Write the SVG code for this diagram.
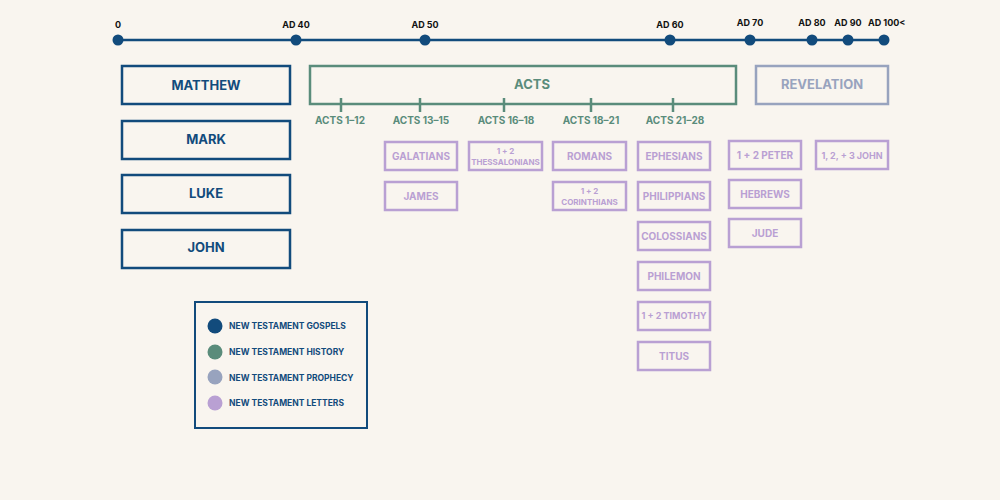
<svg xmlns="http://www.w3.org/2000/svg" width="1000" height="500" viewBox="0 0 1000 500">
<style>
text{font-family:Inter,"Open Sans","Liberation Sans",sans-serif;font-weight:700;text-anchor:middle}
.tl{font-size:9px;fill:#111}
.g rect{fill:none;stroke:#124B7C;stroke-width:2.5}
.g text{font-size:13px;fill:#124B7C}
.h rect{fill:none;stroke:#5A8C7B;stroke-width:2.5}
.h text{fill:#5A8C7B}
.p rect{fill:none;stroke:#98A3BE;stroke-width:2.5}
.p text{font-size:13px;fill:#98A3BE}
.l rect{fill:none;stroke:#B9A0D3;stroke-width:2.5}
.l text{font-size:10px;fill:#B9A0D3}
.l text.s{font-size:8px}
.lg text{font-size:8.5px;fill:#124B7C;text-anchor:start}
</style>
<rect width="1000" height="500" fill="#F9F5EF"/>
<g id="timeline">
<line x1="118" y1="40" x2="884" y2="40" stroke="#124B7C" stroke-width="2.5"/>
<g fill="#124B7C">
<circle cx="118" cy="40" r="5.5"/><circle cx="296" cy="40" r="5.5"/><circle cx="425" cy="40" r="5.5"/><circle cx="670" cy="40" r="5.5"/><circle cx="750" cy="40" r="5.5"/><circle cx="812" cy="40" r="5.5"/><circle cx="848" cy="40" r="5.5"/><circle cx="884" cy="40" r="5.5"/>
</g>
<text class="tl" x="118" y="28">0</text>
<text class="tl" x="296" y="28">AD 40</text>
<text class="tl" x="425" y="28">AD 50</text>
<text class="tl" x="670" y="28">AD 60</text>
<text class="tl" x="750" y="26">AD 70</text>
<text class="tl" x="812" y="26">AD 80</text>
<text class="tl" x="848" y="26">AD 90</text>
<text class="tl" x="868" y="26" style="text-anchor:start">AD 100&lt;</text>
</g>
<g class="g">
<g id="matthew"><rect x="122" y="66" width="168" height="38"/><text x="206" y="89.5">MATTHEW</text></g>
<g id="mark"><rect x="122" y="121" width="168" height="38"/><text x="206" y="144">MARK</text></g>
<g id="luke"><rect x="122" y="175" width="168" height="38"/><text x="206" y="197.5">LUKE</text></g>
<g id="john"><rect x="122" y="230" width="168" height="38"/><text x="206" y="252">JOHN</text></g>
</g>
<g class="h" id="acts">
<rect x="310" y="66" width="426" height="38"/>
<text x="532" y="89" font-size="13">ACTS</text>
<g stroke="#5A8C7B" stroke-width="2.5">
<line x1="341" y1="98" x2="341" y2="112"/><line x1="420" y1="98" x2="420" y2="112"/><line x1="504" y1="98" x2="504" y2="112"/><line x1="591" y1="98" x2="591" y2="112"/><line x1="673" y1="98" x2="673" y2="112"/>
</g>
<g font-size="10">
<text x="340" y="124">ACTS 1–12</text>
<text x="421" y="124">ACTS 13–15</text>
<text x="506" y="124">ACTS 16–18</text>
<text x="591" y="124">ACTS 18–21</text>
<text x="675" y="124">ACTS 21–28</text>
</g>
</g>
<g class="p" id="revelation"><rect x="756" y="66" width="132" height="38"/><text x="822" y="89">REVELATION</text></g>
<g class="l">
<g id="galatians"><rect x="385" y="142" width="72" height="28"/><text x="421" y="159.5">GALATIANS</text></g>
<g id="thessalonians"><rect x="469" y="142" width="73" height="28"/><text class="s" x="505.5" y="153.5">1 + 2</text><text class="s" x="505.5" y="164.5">THESSALONIANS</text></g>
<g id="romans"><rect x="553" y="142" width="73" height="28"/><text x="589.5" y="159.5">ROMANS</text></g>
<g id="ephesians"><rect x="638" y="142" width="72" height="28"/><text x="674" y="159.5">EPHESIANS</text></g>
<g id="peter"><rect x="729" y="141" width="72" height="28"/><text x="765" y="158.5">1 + 2 PETER</text></g>
<g id="johns"><rect x="816" y="141" width="72" height="28"/><text x="852" y="158.5" style="font-size:9px">1, 2, + 3 JOHN</text></g>
<g id="james"><rect x="385" y="182" width="72" height="28"/><text x="421" y="199.5">JAMES</text></g>
<g id="corinthians"><rect x="553" y="182" width="73" height="28"/><text class="s" x="589.5" y="193.5">1 + 2</text><text class="s" x="589.5" y="204.5">CORINTHIANS</text></g>
<g id="philippians"><rect x="638" y="182" width="72" height="28"/><text x="674" y="199.5">PHILIPPIANS</text></g>
<g id="hebrews"><rect x="729" y="180" width="72" height="28"/><text x="765" y="197.5">HEBREWS</text></g>
<g id="colossians"><rect x="638" y="222" width="72" height="28"/><text x="674" y="239.5">COLOSSIANS</text></g>
<g id="jude"><rect x="729" y="219" width="72" height="28"/><text x="765" y="236.5">JUDE</text></g>
<g id="philemon"><rect x="638" y="262" width="72" height="28"/><text x="674" y="279.5">PHILEMON</text></g>
<g id="timothy"><rect x="638" y="302" width="72" height="28"/><text x="674" y="319" style="font-size:9px">1 + 2 TIMOTHY</text></g>
<g id="titus"><rect x="638" y="342" width="72" height="28"/><text x="674" y="359.5">TITUS</text></g>
</g>
<g class="lg" id="legend">
<rect x="195" y="302" width="172" height="126" fill="none" stroke="#124B7C" stroke-width="2"/>
<circle cx="215" cy="326" r="7.5" fill="#124B7C"/><text x="229" y="329">NEW TESTAMENT GOSPELS</text>
<circle cx="215" cy="352" r="7.5" fill="#5A8C7B"/><text x="229" y="355">NEW TESTAMENT HISTORY</text>
<circle cx="215" cy="377" r="7.5" fill="#98A3BE"/><text x="229" y="380.5">NEW TESTAMENT PROPHECY</text>
<circle cx="215" cy="403" r="7.5" fill="#B9A0D3"/><text x="229" y="406">NEW TESTAMENT LETTERS</text>
</g>
</svg>
